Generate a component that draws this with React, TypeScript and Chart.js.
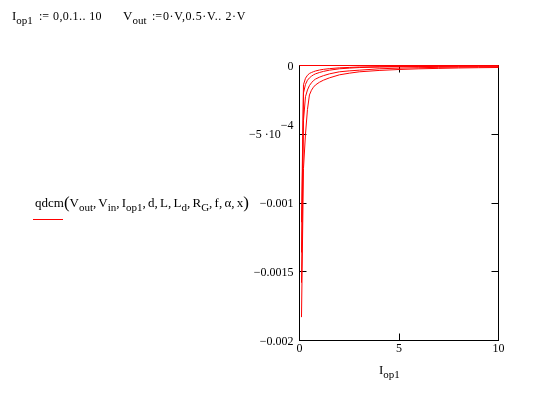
import React, { useEffect, useRef } from 'react';
import { Chart, registerables } from 'chart.js';

Chart.register(...registerables);

// I_op1 sample points (x axis) and qdcm(...) for each V_out
const iop1 = [0.1, 0.2, 0.3, 0.4, 0.5, 0.6, 0.7, 0.8, 1, 1.2, 1.5, 2, 2.5, 3, 4, 5, 6, 7, 8, 9, 10];
const zeroIop1 = [0, 10];
const qdcmV0 = [0, 0];
const qdcmV05 = [-0.00114, -0.00014, -0.000093, -0.000071, -0.000058, -0.000051, -0.000045, -0.00004, -0.000033, -0.000028, -0.000023, -0.000017, -0.000014, -0.000011, -0.0000085, -0.0000068, -0.0000058, -0.000005, -0.0000044, -0.000004, -0.0000036];
const qdcmV1 = [-0.00136, -0.0002, -0.000137, -0.000107, -0.00009, -0.000078, -0.000068, -0.000061, -0.000051, -0.000043, -0.000034, -0.000024, -0.000019, -0.000015, -0.0000115, -0.000009, -0.0000075, -0.0000065, -0.0000057, -0.000005, -0.0000045];
const qdcmV15 = [-0.00158, -0.0004, -0.000227, -0.000178, -0.000146, -0.000126, -0.00011, -0.000099, -0.000085, -0.000074, -0.000061, -0.000046, -0.000039, -0.000034, -0.000024, -0.000019, -0.000016, -0.0000135, -0.000012, -0.0000105, -0.0000095];
const qdcmV2 = [-0.00183, -0.00075, -0.0005, -0.00032, -0.000214, -0.00018, -0.000158, -0.000142, -0.000122, -0.000107, -0.00009, -0.000068, -0.000056, -0.000046, -0.000036, -0.000029, -0.000024, -0.000021, -0.000018, -0.000016, -0.0000145];

const xTicks = [0, 5, 10];
const xTickLabels = ['0', '5', '10'];
const yTicks = [0, -0.0005, -0.001, -0.0015, -0.002];
const yTickLabels = ['0', '\u22125 \u00b710', '\u22120.001', '\u22120.0015', '\u22120.002'];
const yTickSup = ['', '\u22124', '', '', ''];

const FONT = '"Liberation Serif", "Times New Roman", serif';
const RED = '#ff0000';

const frame = {
  id: 'mathcadFrame',
  beforeDatasetsDraw(chart: any) {
    const { ctx, chartArea, scales } = chart;
    const { left, top, right, bottom } = chartArea;
    const half = (v: number) => Math.floor(v) + 0.5;
    ctx.save();
    ctx.strokeStyle = '#000';
    ctx.lineWidth = 1;
    ctx.strokeRect(left, top, right - left, bottom - top);
    ctx.beginPath();
    yTicks.forEach((v) => {
      const py = half(scales.y.getPixelForValue(v));
      ctx.moveTo(left, py);
      ctx.lineTo(left + 7, py);
      ctx.moveTo(right, py);
      ctx.lineTo(right - 7, py);
    });
    xTicks.forEach((v) => {
      const px = half(scales.x.getPixelForValue(v));
      ctx.moveTo(px, bottom);
      ctx.lineTo(px, bottom - 7);
      ctx.moveTo(px, top);
      ctx.lineTo(px, top + 7);
    });
    ctx.stroke();

    ctx.fillStyle = '#000';
    ctx.font = `12px ${FONT}`;
    ctx.textBaseline = 'alphabetic';
    yTicks.forEach((v, i) => {
      const py = scales.y.getPixelForValue(v);
      let xr = left - 6;
      if (yTickSup[i]) {
        const w = ctx.measureText(yTickSup[i]).width;
        ctx.textAlign = 'left';
        ctx.fillText(yTickSup[i], xr - w, py - 5);
        xr -= w;
      }
      ctx.textAlign = 'right';
      ctx.fillText(yTickLabels[i], xr, py + 4);
    });
    ctx.textAlign = 'center';
    xTicks.forEach((v, i) => {
      ctx.fillText(xTickLabels[i], scales.x.getPixelForValue(v), bottom + 11);
    });
    ctx.restore();
  },
};

const Sub: React.FC<{ children: React.ReactNode }> = ({ children }) => (
  <span style={{ fontSize: 11, verticalAlign: '-4px' }}>{children}</span>
);

const Txt: React.FC<{ left: number; baseline: number; size?: number; spacing?: number; words?: number; children: React.ReactNode }> = ({ left, baseline, size = 13, spacing = 0, words = 0, children }) => (
  <div
    style={{
      position: 'absolute',
      left,
      top: baseline - size * 0.838,
      fontSize: size,
      lineHeight: `${size}px`,
      fontFamily: FONT,
      color: '#000',
      whiteSpace: 'nowrap',
      letterSpacing: spacing,
      wordSpacing: words,
    }}
  >
    {children}
  </div>
);

const Paren: React.FC<{ children: React.ReactNode }> = ({ children }) => (
  <span style={{ fontSize: 17, verticalAlign: '-1px' }}>{children}</span>
);

export default function App() {
  const canvasRef = useRef<HTMLCanvasElement>(null);

  useEffect(() => {
    if (!canvasRef.current) return;
    const pts = (xs: number[], ys: number[]) => xs.map((x, i) => ({ x, y: ys[i] }));
    const series = [
      pts(iop1, qdcmV2),
      pts(iop1, qdcmV15),
      pts(iop1, qdcmV1),
      pts(iop1, qdcmV05),
      pts(zeroIop1, qdcmV0),
    ];
    const chart = new Chart(canvasRef.current, {
      type: 'line',
      data: {
        datasets: series.map((data) => ({
          data,
          borderColor: RED,
          borderWidth: 1,
          pointRadius: 0,
          tension: 0,
          fill: false,
          clip: false as any,
        })),
      },
      options: {
        animation: false,
        responsive: false,
        events: [],
        layout: { padding: { left: 299.5, top: 65.5, right: 40.5, bottom: 78.5 } },
        plugins: { legend: { display: false }, tooltip: { enabled: false } },
        scales: {
          x: { type: 'linear', min: 0, max: 10, display: false },
          y: { type: 'linear', min: -0.002, max: 0, display: false },
        },
      },
      plugins: [frame],
    });
    return () => chart.destroy();
  }, []);

  return (
    <div style={{ position: 'absolute', left: 0, top: 0, width: 539, height: 419, background: '#fff' }}>
      <canvas ref={canvasRef} width={539} height={419} style={{ position: 'absolute', left: 0, top: 0, width: 539, height: 419 }} />

      <Txt left={12} baseline={20}>I<Sub>op1</Sub></Txt>
      <Txt left={39} baseline={20} size={12}>:=</Txt>
      <Txt left={53} baseline={20} size={12} spacing={0.4}>0,0.1.. 10</Txt>
      <Txt left={123} baseline={20}>V<Sub>out</Sub></Txt>
      <Txt left={152} baseline={20} size={12}>:=</Txt>
      <Txt left={163} baseline={20} size={12} spacing={0.6}>0·V,0.5·V.. 2·V</Txt>

      <Txt left={35} baseline={207} words={-1}>
        qdcm<Paren>(</Paren>V<Sub>out</Sub>, V<Sub>in</Sub>, I<Sub>op1</Sub>, d, L, L<Sub>d</Sub>, R<Sub>G</Sub>, f, α, x<Paren>)</Paren>
      </Txt>
      <div style={{ position: 'absolute', left: 33, top: 219, width: 30, height: 1, background: RED }} />

      <Txt left={379} baseline={374}>I<Sub>op1</Sub></Txt>
    </div>
  );
}
